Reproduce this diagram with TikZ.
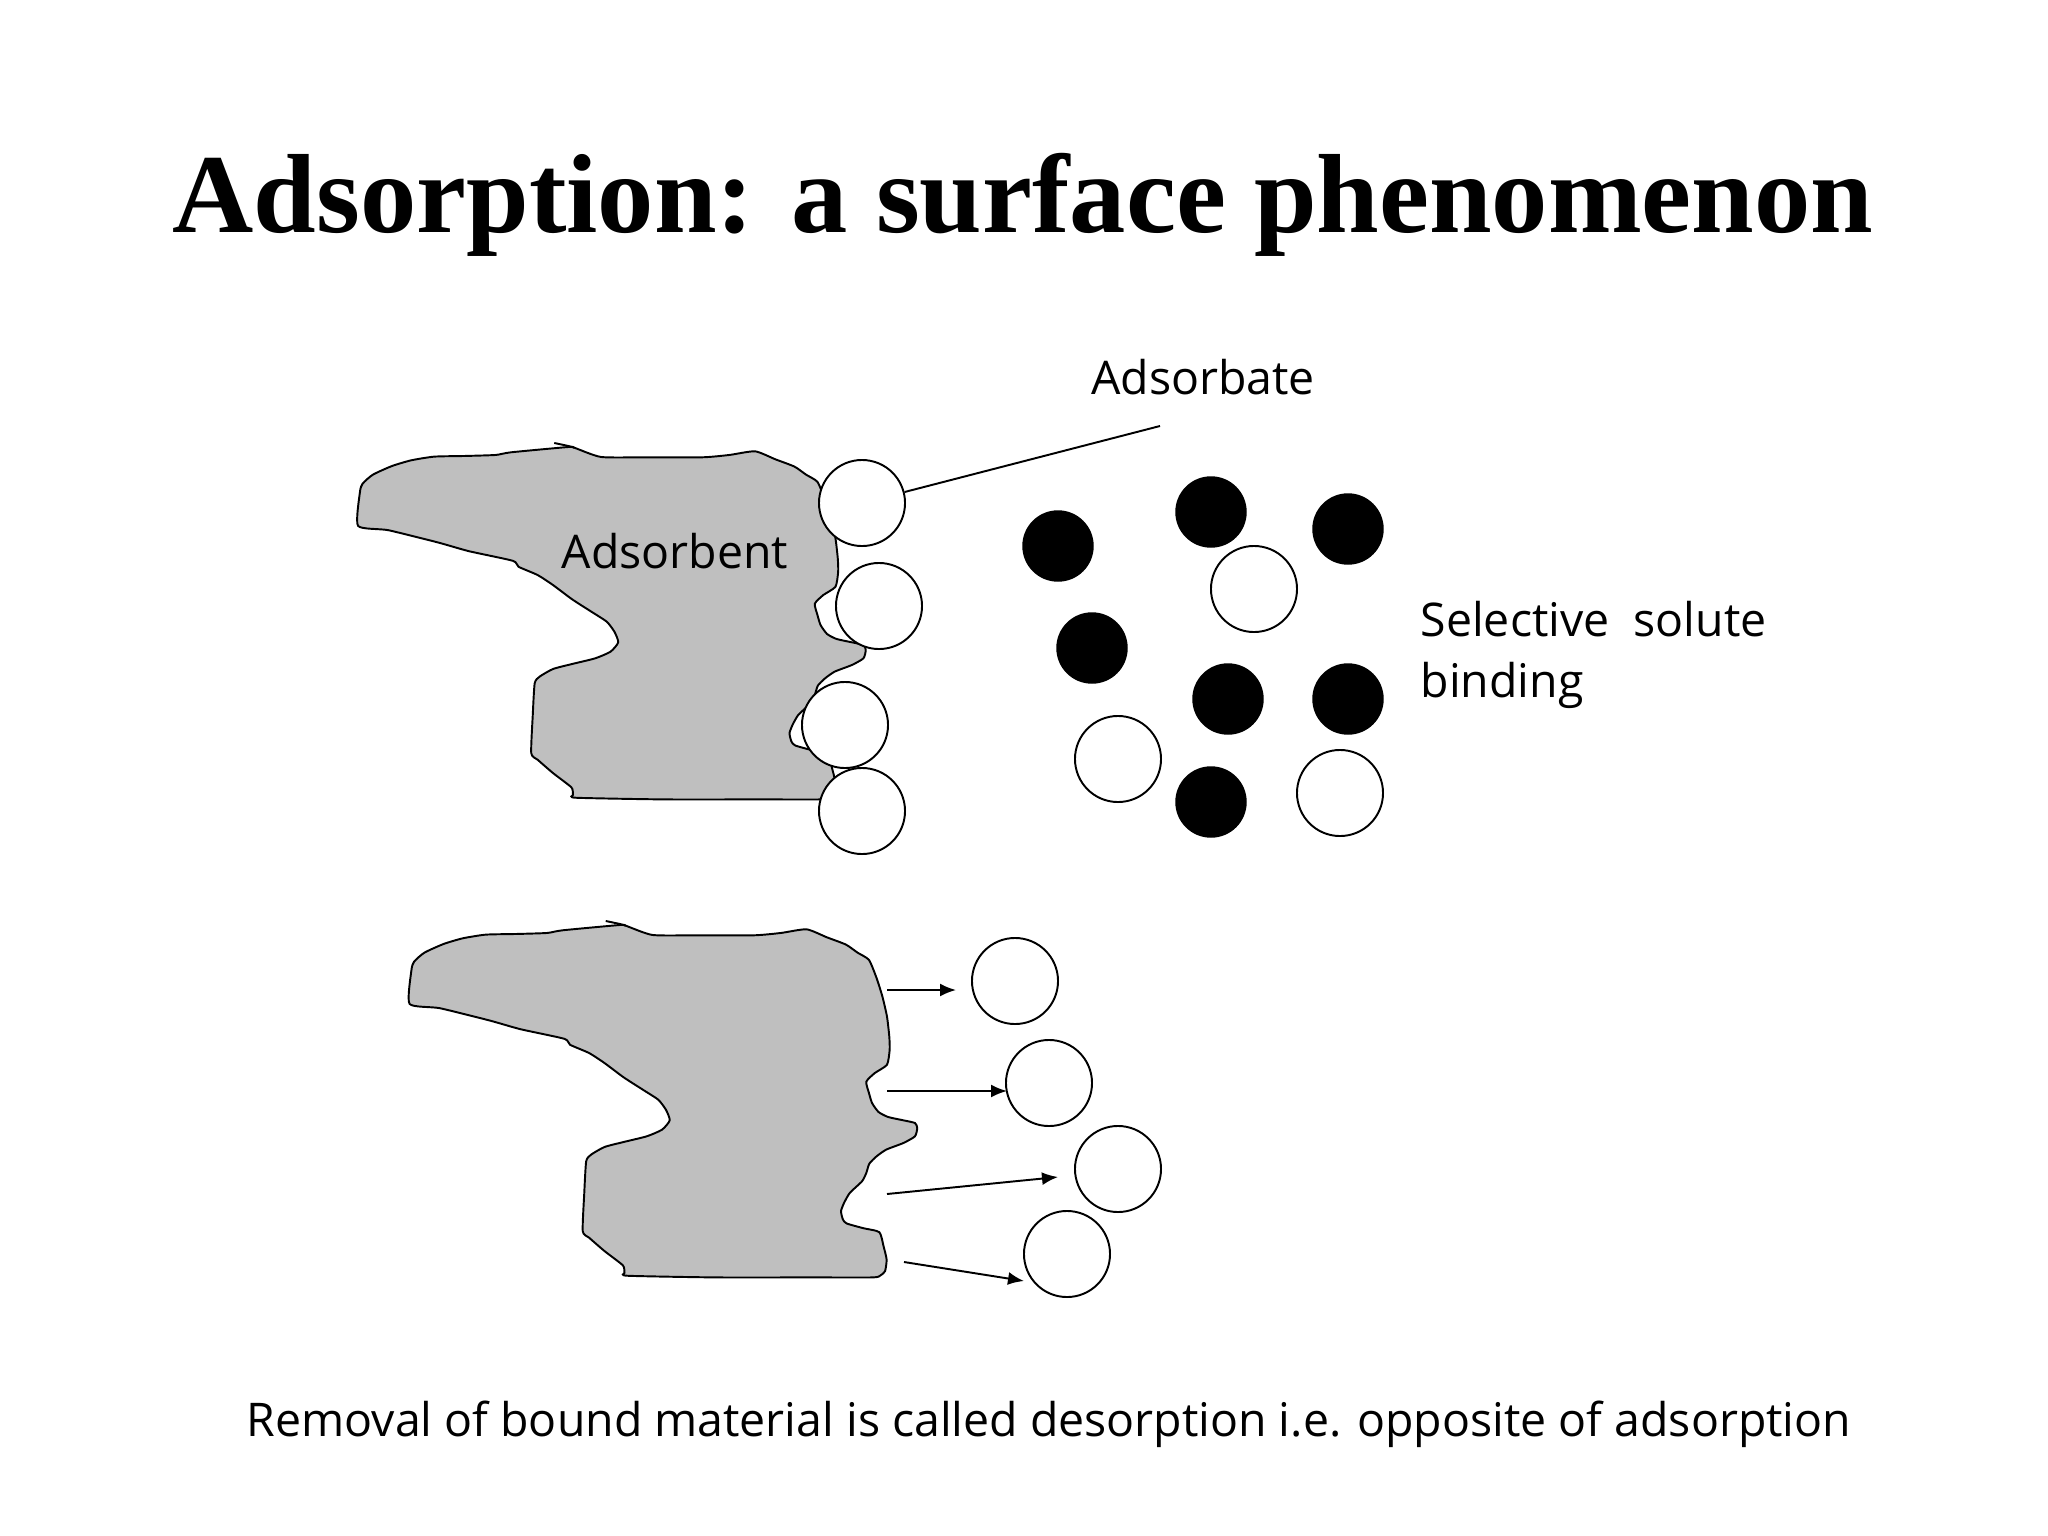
\documentclass[tikz,border=0pt]{standalone}
\usepackage{fontspec}
\setmainfont{Open Sans}
\newfontfamily\titlefont{Liberation Serif}
\usetikzlibrary{arrows.meta}
\definecolor{bodygray}{RGB}{191,191,191}
\tikzset{
	freeball/.style={circle,draw,fill=white,line width=0.55pt,minimum size=0.86cm,inner sep=0pt},
	soluteball/.style={circle,draw,fill=black,minimum size=0.7cm,inner sep=0pt},
	label/.style={font=\fontsize{13.2}{16}\selectfont,anchor=base,inner sep=0pt},
	pusharrow/.style={-{Latex[length=0.16cm,width=0.13cm]},line width=0.55pt},
	adsorbent/.pic={
		\begin{scope}[x=0.003827cm,y=-0.003333cm]
		\draw[fill=bodygray,line width=0.55pt] plot[smooth cycle,tension=0.35] coordinates {
			(51,282) (56,180) (63,155) (90,128) (140,102) (190,85) (250,74) (330,72) (410,69)
			(450,61) (600,45) (615,47) (685,75) (800,76) (950,76) (1020,69) (1087,58)
			(1140,82) (1190,104) (1220,128) (1250,150) (1270,205) (1285,260) (1297,320)
			(1303,380) (1304,420) (1297,465) (1265,490) (1243,516) (1250,550) (1258,580)
			(1275,607) (1300,622) (1340,632) (1370,640) (1376,655) (1370,680) (1340,700)
			(1295,720) (1270,740) (1251,762) (1243,790) (1232,815) (1200,850) (1185,880)
			(1177,905) (1182,930) (1192,942) (1235,956) (1277,968) (1288,1010) (1296,1050)
			(1292,1085) (1280,1098) (1260,1104) (1100,1104) (850,1104) (620,1099) (612,1090)
			(608,1068) (560,1025) (520,985) (503,965) (507,850) (512,755) (525,735) (560,712)
			(610,697) (670,680) (710,660) (730,632) (720,600) (700,570) (660,540) (610,503)
			(560,460) (520,430) (470,405) (455,387) (340,358) (260,332) (130,295)};
		\draw[line width=0.55pt] (563,33) -- (600,42) -- (615,47);
		\end{scope}
	}
}
\begin{document}
\begin{tikzpicture}[x=0.01cm,y=-0.01cm]
	\useasboundingbox (0,0) rectangle (2048,1536);
	\node[font=\titlefont\bfseries\fontsize{32}{38}\selectfont,anchor=base,inner sep=0pt] (title) at (1023,232) {Adsorption: a surface phenomenon};
	% upper body with bound balls
	\pic at (338.5,432) {adsorbent};
	\node[label] (adsorbent) at (675,568) {Adsorbent};
	\node[freeball] (bound1) at (862,503) {};
	\node[freeball] (bound2) at (879,606) {};
	\node[freeball] (bound3) at (845,725) {};
	\node[freeball] (bound4) at (862,811) {};
	\node[label] (adsorbate) at (1203,394) {Adsorbate};
	\coordinate (leader) at (1160,426);
	\draw[line width=0.55pt] (bound1) -- (leader);
	% solutes
	\foreach \nm/\px/\py in {a/1058/546,b/1211/512,c/1348/529,d/1092/648,e/1228/699,f/1348/699,g/1211/802}
		\node[soluteball] (solute\nm) at (\px,\py) {};
	\foreach \nm/\px/\py in {a/1254/589,b/1118/759,c/1340/793}
		\node[freeball] (free\nm) at (\px,\py) {};
	\node[label,anchor=base west] (selective) at (1420,636) {Selective\ \ solute};
	\node[label,anchor=base west] (binding) at (1420,697) {binding};
	% lower body, balls leaving
	\pic at (390,910) {adsorbent};
	\node[freeball] (left1) at (1015,981) {};
	\node[freeball] (left2) at (1049,1083) {};
	\node[freeball] (left3) at (1118,1169) {};
	\node[freeball] (left4) at (1067,1254) {};
	\coordinate (tail1) at (887,990);
	\coordinate (head1) at (956,990);
	\coordinate (tail2) at (887,1091);
	\coordinate (head2) at (1007,1091);
	\coordinate (tail3) at (887,1194);
	\coordinate (head3) at (1058,1177);
	\coordinate (tail4) at (904,1262);
	\coordinate (head4) at (1024,1281);
	\foreach \i in {1,...,4}
		\draw[pusharrow] (tail\i) -- (head\i);
	\node[label] (removal) at (1049,1436) {Removal of bound material is called desorption i.e. opposite of adsorption};
\end{tikzpicture}
\end{document}
